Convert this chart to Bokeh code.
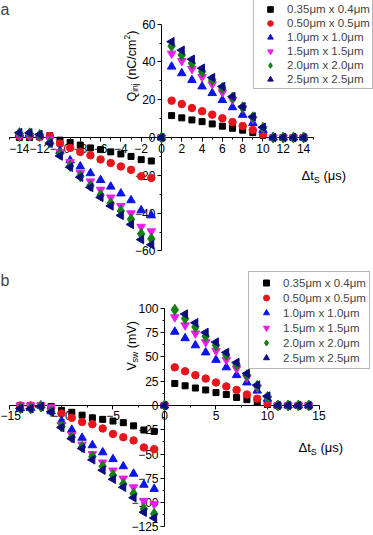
import numpy as np
from bokeh.plotting import figure
from bokeh.models import Range1d, FixedTicker, Legend, LegendItem, Label, ColumnDataSource
from bokeh.layouts import column
from bokeh.embed import file_html
from bokeh.resources import INLINE

# ---------------- data ----------------
dt_s = list(range(-14, 15))   # Δt_S (μs)

series_names = ["0.35μm x 0.4μm", "0.50μm x 0.5μm", "1.0μm x 1.0μm",
                "1.5μm x 1.5μm", "2.0μm x 2.0μm", "2.5μm x 2.5μm"]

# panel a: Q_inj (nC/cm^2)
q_035 = [0, 0, 0.3, 1.0, -1.4, -2.6, -4.0, -5.5, -6.4, -7.6, -8.7, -10.0, -11.7, -12.4,
         0, 11.6, 10.4, 9.3, 8.4, 7.2, 6.0, 4.9, 3.9, 2.6, 1.2, 0, 0, 0, 0]
q_050 = [0.8, 0.8, 0.5, 0.8, -3.2, -5.5, -7.6, -9.4, -11.6, -13.5, -15.3, -17.1, -20.5, -21.4,
         0, 19.5, 17.7, 15.6, 13.9, 12.1, 10.2, 8.2, 6.1, 4.0, 1.7, 0, 0, 0, 0]
q_100 = [2.0, 2.0, 1.2, -2.2, -7.1, -12.1, -15.3, -18.9, -22.5, -26.0, -29.6, -33.2, -38.5, -41.2,
         0, 37.5, 34.0, 30.4, 27.0, 23.5, 19.8, 16.0, 12.0, 7.7, 4.0, 0, 0, 0, 0]
q_150 = [0.8, 0.8, 0.6, -1.0, -7.6, -13.0, -18.7, -23.2, -27.6, -31.7, -36.2, -40.1, -47.2, -49.6,
         0, 44.4, 40.5, 36.3, 32.1, 28.2, 23.9, 20.0, 15.4, 9.8, 4.6, 0, 0, 0, 0]
q_200 = [2.3, 2.2, 1.4, -2.6, -8.6, -15.1, -20.5, -25.5, -30.5, -34.8, -38.9, -43.3, -51.0, -53.6,
         0, 48.4, 43.7, 39.3, 34.9, 30.5, 26.2, 21.2, 16.0, 10.7, 5.1, 0, 0, 0, 0]
q_250 = [2.6, 2.5, 1.6, -3.0, -9.8, -15.7, -21.0, -26.4, -31.7, -36.2, -41.2, -46.0, -54.0, -56.7,
         0, 50.7, 46.2, 41.4, 36.7, 31.7, 27.0, 21.7, 16.3, 11.0, 5.4, 0, 0, 0, 0]

# panel b: V_sw (mV)  (first positive point of 2.5μm lies above the axis top, not shown)
v_035 = [0, 0, 0, -1, -5, -7, -10, -12.7, -14.3, -16, -17.7, -21, -25.3, -26.7,
         0, 22.7, 20.3, 18, 16, 13.3, 11.3, 8.3, 6, 3.3, 1, 0, 0, 0, 0]
v_050 = [0, 0, 0, -2.7, -8.3, -12.7, -17, -19.3, -23.7, -29.3, -32.7, -36, -43.3, -45,
         0, 39.3, 35.3, 31.3, 27.7, 23.7, 19.7, 16, 11.3, 7, 2, 0, 0, 0, 0]
v_100 = [-2.7, -2.7, 0, -6, -16, -25, -33.3, -41, -48.3, -55.3, -62.7, -70.3, -81.7, -86,
         0, 76, 69.3, 62, 54.7, 47, 39.3, 31.3, 23.7, 15.3, 7, 0, 0, 0, 0]
v_150 = [0, 0, 0, -2, -20.3, -30.3, -40.3, -50, -58.7, -67, -75.3, -84.3, -98.3, -101.7,
         0, 91, 82.7, 74.3, 65.3, 56.3, 47, 38, 28.7, 18.7, 7, 0, 0, 0, 0]
v_200 = [-2.7, -3, -1, -6, -21.7, -32.7, -42.7, -52.7, -62.7, -72, -81, -91, -106.7, -111.7,
         0, 98.7, 89.7, 81, 71.3, 62, 52, 42, 31.3, 20.3, 8.7, 0, 0, 0, 0]
v_250 = [-3, -3.3, -1, -6.5, -22.7, -34.3, -44.3, -56, -66.7, -76, -84.3, -95, -110, -116,
         0, float("nan"), 94.3, 85.3, 75.3, 65.3, 54.7, 44.3, 33, 21, 9.7, 0, 0, 0, 0]

xticks_a = [-14, -12, -10, -8, -6, -4, -2, 0, 2, 4, 6, 8, 10, 12, 14]
yticks_a = [-60, -40, -20, 0, 20, 40, 60]
xticks_b = [-15, -10, -5, 0, 5, 10, 15]
yticks_b = [-125, -100, -75, -50, -25, 0, 25, 50, 75, 100]

# ---------------- style ----------------
FONT = "Liberation Sans"
styles = [
    dict(marker="square", size=6, color="#000000", angle=0.0),
    dict(marker="circle", size=7.5, color="#e8161c", angle=0.0),
    dict(marker="triangle", size=8.5, color="#0a14e6", angle=0.0),
    dict(marker="inverted_triangle", size=8.5, color="#f01af0", angle=0.0),
    dict(marker="diamond", size=11, color="#128012", angle=0.0),
    dict(marker="triangle", size=8.5, color="#0c0c80", angle=np.pi / 2),
]

W = {'Q': .778, 'i': .222, 'n': .556, 'j': .222, ' ': .278, '(': .333, ')': .333, 'C': .722,
     '/': .278, 'c': .5, 'm': .833, '2': .556, 'V': .667, 's': .5, 'w': .722, 'Δ': .668,
     't': .278, 'S': .667, 'μ': .576}


def tw(s, size):
    return sum(W.get(ch, .556) for ch in s) * size


WIDTH = 373


def rich(p, top, height, pieces, px, py, rotated):
    """pieces: (text, size, shift, gap_before); shift>0 means subscript."""
    pos = 0.0
    for text, size, shift, gap in pieces:
        pos += gap
        if rotated:
            sx = px + shift
            sy = top + height - (py - pos)
        else:
            sx = px + pos
            sy = top + height - (py + shift)
        p.add_layout(Label(x=sx, y=sy, x_units="screen", y_units="screen", text=text,
                           angle=(np.pi / 2 if rotated else 0), text_font=FONT,
                           text_font_size=f"{size}px", text_color="black",
                           text_align="left", text_baseline="alphabetic"))
        pos += tw(text, size)


def panel(top, height, xr, yr, xt, xminor, yt, yminor, ydata, xb, yb, legend_box,
          pad, row_h):
    p = figure(width=WIDTH, height=height, x_range=Range1d(*xr), y_range=Range1d(*yr),
               output_backend="svg", toolbar_location=None, min_border=0,
               min_border_left=0, min_border_right=0, min_border_top=0, min_border_bottom=0)
    p.grid.visible = False
    p.outline_line_color = None
    items = []
    for name, ys, st in zip(series_names, ydata, styles):
        src = ColumnDataSource(dict(x=dt_s, y=ys))
        r = p.scatter("x", "y", source=src, marker=st["marker"], size=st["size"],
                      fill_color=st["color"], line_color=st["color"], angle=st["angle"])
        items.append(LegendItem(label=name, renderers=[r]))
    for ax, ticks, minor, bounds in ((p.xaxis[0], xt, xminor, xb), (p.yaxis[0], yt, yminor, yb)):
        ax.fixed_location = 0
        ax.bounds = bounds
        ax.ticker = FixedTicker(ticks=ticks, minor_ticks=minor)
        ax.major_tick_in = 0
        ax.major_tick_out = 4
        ax.minor_tick_in = 0
        ax.minor_tick_out = 2
        ax.axis_line_color = "black"
        ax.major_tick_line_color = "black"
        ax.minor_tick_line_color = "black"
        ax.major_label_text_font = FONT
        ax.major_label_text_font_size = "12px"
        ax.major_label_text_color = "black"
        ax.major_label_standoff = 2
        ax.level = "underlay"
    # legend_box = (left, top) in page pixels of this panel
    left, ltop = legend_box
    n = len(items)
    lh = 2 * pad + n * row_h
    leg = Legend(items=items, location=(left, top + height - (ltop + lh)), padding=pad,
                 spacing=0, margin=0, glyph_width=28, glyph_height=row_h, label_height=row_h,
                 label_standoff=3, label_text_font=FONT, label_text_font_size="11.5px",
                 border_line_color="#707070", border_line_width=1,
                 background_fill_color="white", background_fill_alpha=1.0)
    p.add_layout(leg)
    # legend glyphs are never rotated: show the left-pointing symbol of the last series
    gx = left + pad + 14
    gy = ltop + pad + (n - 1) * row_h + row_h / 2
    p.add_layout(Label(x=gx, y=top + height - gy, x_units="screen", y_units="screen",
                       text="◀", text_font="DejaVu Sans", text_font_size="9px",
                       text_color=styles[-1]["color"], text_align="center",
                       text_baseline="middle", background_fill_color="white", padding=1,
                       level="overlay"))
    return p


# panel a  (page rows 0..268)
TOP_A, H_A = 0, 268
pa = panel(TOP_A, H_A, (-15.86, 20.89), (-69.3, 72.5),
           xticks_a, [v for v in range(-15, 16) if v % 2], yticks_a,
           [v for v in range(-50, 60, 20)],
           [q_035, q_050, q_100, q_150, q_200, q_250],
           (-15, 15), (-60, 60), (253, 1), 2, 14)
rich(pa, TOP_A, H_A, [("Q", 12.5, 0, 0), ("inj", 8.5, 3, 0), ("(nC/cm", 12.5, 0, 3.5),
                      ("2", 8.5, -5, 0), (")", 12.5, 0, 0)], 131, 101, True)
rich(pa, TOP_A, H_A, [("Δt", 13, 0, 0), ("S", 9, 4, 0), ("(μs)", 13, 0, 3.6)], 301, 175, False)
pa.add_layout(Label(x=0, y=H_A, x_units="screen", y_units="screen", text="a",
                    text_font=FONT, text_font_size="16px", text_align="left",
                    text_baseline="top"))

# panel b  (page rows 268..535)
TOP_B, H_B = 268, 267
pb = panel(TOP_B, H_B, (-15.92, 20.29), (-134.0, 141.2),
           xticks_b, [-12.5, -7.5, -2.5, 2.5, 7.5, 12.5], yticks_b,
           [-112.5, -87.5, -62.5, -37.5, -12.5, 12.5, 37.5, 62.5, 87.5],
           [v_035, v_050, v_100, v_150, v_200, v_250],
           (-15, 15), (-125, 100), (248, 273), 3, 15)
rich(pb, TOP_B, H_B, [("V", 12.5, 0, 0), ("sw", 8.5, 3, 0), ("(mV)", 12.5, 0, 3.5)],
     131, 370, True)
rich(pb, TOP_B, H_B, [("Δt", 13, 0, 0), ("S", 9, 4, 0), ("(μs)", 13, 0, 3.6)], 298, 447, False)
pb.add_layout(Label(x=0, y=H_B - 3, x_units="screen", y_units="screen", text="b",
                    text_font=FONT, text_font_size="16px", text_align="left",
                    text_baseline="top"))

layout = column(pa, pb, spacing=0)
open("out.html", "w").write(file_html(layout, INLINE))
